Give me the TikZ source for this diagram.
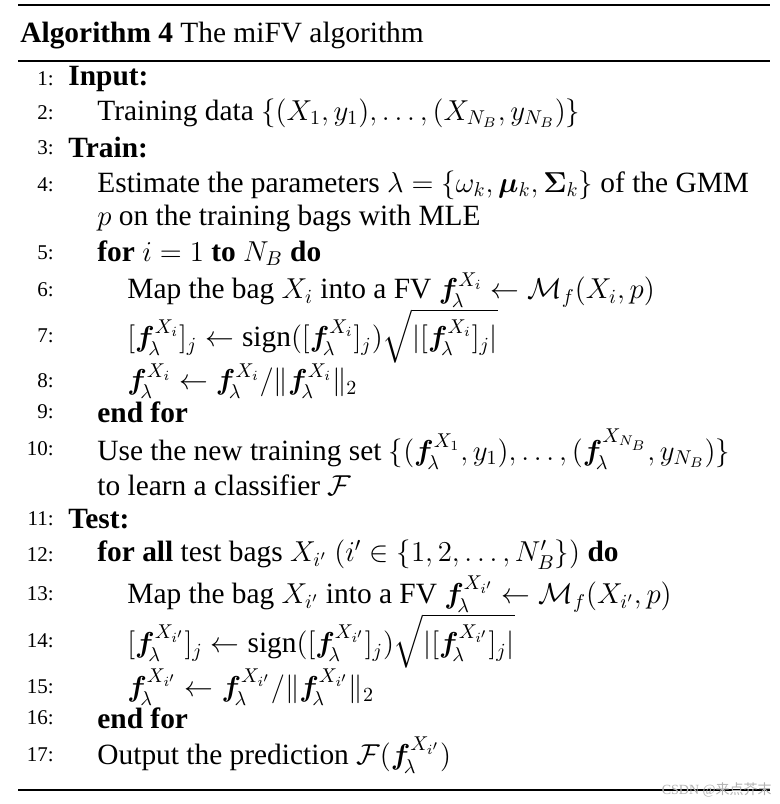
\documentclass[tikz,border=0pt]{standalone}
\usepackage{amsmath,amssymb,bm}
\usepackage{fontspec}
\setmainfont{Liberation Serif}
\newfontfamily\cjk{Noto Sans CJK SC}
\begin{document}
\begin{tikzpicture}[x=0.5pt,y=-0.5pt,
  ln/.style={anchor=east,inner sep=0pt,font=\fontsize{10.5}{12}\selectfont},
  tx/.style={anchor=west,inner sep=0pt,font=\fontsize{14.7}{17}\selectfont}]
\useasboundingbox (0,0) rectangle (780,804);
\fill[white] (0,0) rectangle (780,804);
\draw[line width=1.2pt] (18,5) -- (770,5);
\draw[line width=0.6pt] (18,61) -- (770,61);
\draw[line width=0.6pt] (18,790) -- (770,790);
\node[tx,anchor=west] (h) at (20,36) {\textbf{Algorithm 4} The miFV algorithm};
\newcommand\fl{\bm{f}_{\!\lambda}}
\foreach \n/\y in {1/79,2/113,3/148,4/185,5/253,6/290,7/336,8/381,9/412,10/449,11/519,12/555,13/594,14/641,15/687,16/718,17/755}
  \node[ln] (n\n) at (54,\y) {\n:};
\node[tx] (l1) at (68,79) {\textbf{Input:}};
\node[tx] (l2) at (97,113) {Training data $\{(X_1,y_1),\ldots,(X_{N_B},y_{N_B})\}$};
\node[tx] (l3) at (68,148) {\textbf{Train:}};
\node[tx] (l4) at (97,185) {Estimate the parameters $\lambda=\{\omega_k,\bm{\mu}_k,\bm{\Sigma}_k\}$ of the GMM};
\node[tx] (l4b) at (97,218) {$p$ on the training bags with MLE};
\node[tx] (l5) at (97,253) {\textbf{for} $i=1$ \textbf{to} $N_B$ \textbf{do}};
\node[tx] (l6) at (127,290) {Map the bag $X_i$ into a FV $\fl^{X_i}\leftarrow\mathcal{M}_f(X_i,p)$};
\node[tx] (l7) at (127,336) {$[\fl^{X_i}]_j\leftarrow\operatorname{sign}([\fl^{X_i}]_j)\sqrt{|[\fl^{X_i}]_j|}$};
\node[tx] (l8) at (127,381) {$\fl^{X_i}\leftarrow\fl^{X_i}/\|\fl^{X_i}\|_2$};
\node[tx] (l9) at (97,412) {\textbf{end for}};
\node[tx] (l10) at (97,449) {Use the new training set $\{(\fl^{X_1},y_1),\ldots,(\fl^{X_{N_B}},y_{N_B})\}$};
\node[tx] (l10b) at (97,485) {to learn a classifier $\mathcal{F}$};
\node[tx] (l11) at (68,519) {\textbf{Test:}};
\node[tx] (l12) at (97,555) {\textbf{for all} test bags $X_{i'}$ $(i'\in\{1,2,\ldots,N_B'\})$ \textbf{do}};
\node[tx] (l13) at (127,594) {Map the bag $X_{i'}$ into a FV $\fl^{X_{i'}}\leftarrow\mathcal{M}_f(X_{i'},p)$};
\node[tx] (l14) at (127,641) {$[\fl^{X_{i'}}]_j\leftarrow\operatorname{sign}([\fl^{X_{i'}}]_j)\sqrt{|[\fl^{X_{i'}}]_j|}$};
\node[tx] (l15) at (127,687) {$\fl^{X_{i'}}\leftarrow\fl^{X_{i'}}/\|\fl^{X_{i'}}\|_2$};
\node[tx] (l16) at (97,718) {\textbf{end for}};
\node[tx] (l17) at (97,755) {Output the prediction $\mathcal{F}(\fl^{X_{i'}})$};
\node[anchor=east,inner sep=0pt,text=gray!60,font=\fontsize{7}{8}\selectfont] (wm) at (772,790) {CSDN @{\cjk 来点芥末}};
\end{tikzpicture}
\end{document}
